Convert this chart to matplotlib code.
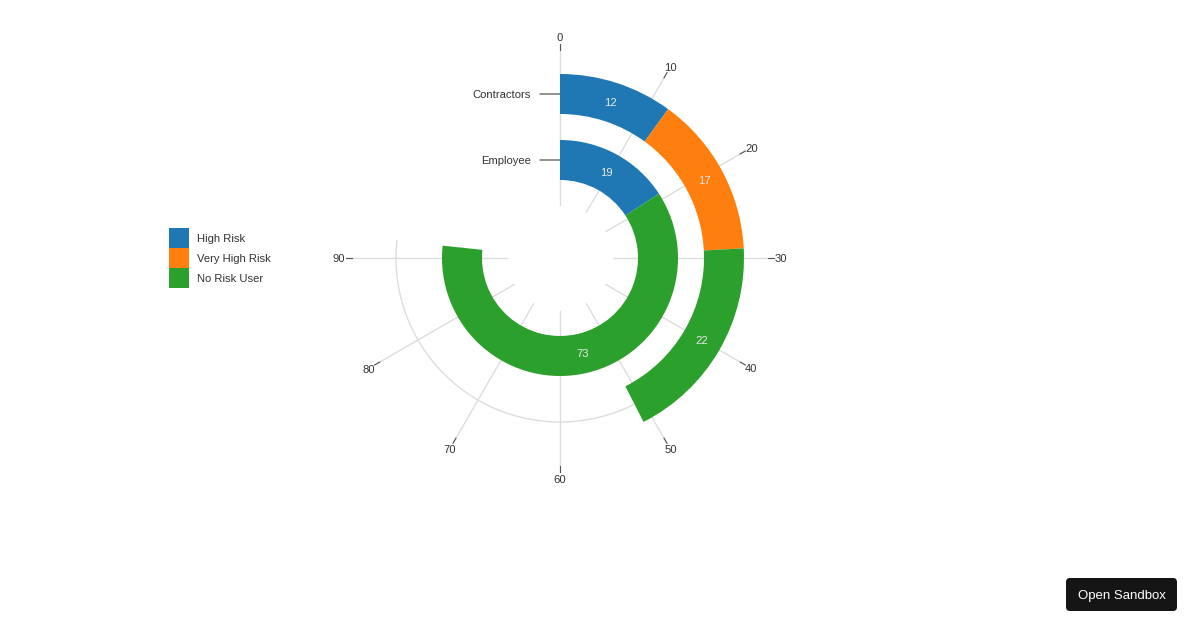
import numpy as np
import matplotlib
matplotlib.use('Agg')
import matplotlib.pyplot as plt
from matplotlib.patches import Rectangle, FancyBboxPatch

plt.rcParams['font.family'] = ['Liberation Sans', 'DejaVu Sans']

# 데이터
categories = ['Contractors', 'Employee']
series = ['High Risk', 'Very High Risk', 'No Risk User']
high_risk = [12, 19]
very_high_risk = [17, 0]
no_risk = [22, 73]
colors = ['#1f77b4', '#ff7f0e', '#2ca02c']
angle_ticks = [0, 10, 20, 30, 40, 50, 60, 70, 80, 90]

# 1 단위 = 3도
def to_theta(v):
    return np.deg2rad(np.asarray(v, dtype=float) * 3.0)

W, H = 1200, 630
cx, cy = 560, 258
R = 235
band_inner = [144, 78]
band_w = 40
fs = 8.1

fig = plt.figure(figsize=(W / 100, H / 100), dpi=100)
ax = fig.add_axes([(cx - R) / W, (H - cy - R) / H, 2 * R / W, 2 * R / H],
                  projection='polar')
ax.set_theta_zero_location('N')
ax.set_theta_direction(-1)
ax.set_ylim(0, R)
ax.axis('off')

# 방사형 그리드
for t in angle_ticks:
    th = to_theta(t)
    ax.plot([th, th], [53, 213], color='#dddddd', lw=1, zorder=0)
    ax.plot([th, th], [208, 214], color='#555555', lw=0.8, zorder=0)
    ax.annotate(str(t), xy=(th, 221), xytext=(0, -1), textcoords='offset pixels',
                ha='center', va='center', fontsize=fs, color='#333333')

# 막대 중심 원호
totals = np.array(high_risk) + np.array(very_high_risk) + np.array(no_risk)
arc = np.linspace(0, to_theta(totals.max()), 300)
for i in range(len(categories)):
    ax.plot(arc, np.full_like(arc, band_inner[i] + band_w / 2), color='#dddddd', lw=1, zorder=0)

# 누적 막대
stack = [high_risk, very_high_risk, no_risk]
for i, cat in enumerate(categories):
    start = 0
    for s, vals in enumerate(stack):
        v = vals[i]
        if v > 0:
            ax.bar(to_theta(start), band_w, width=to_theta(v), bottom=band_inner[i],
                   align='edge', color=colors[s], edgecolor='none', zorder=2)
            ax.annotate(str(v), xy=(to_theta(start + v / 2), band_inner[i] + band_w / 2),
                        xytext=(0, -1), textcoords='offset pixels',
                        ha='center', va='center', fontsize=fs, color='#e8e8e8', zorder=3)
        start += v

    rc = band_inner[i] + band_w / 2
    ax.annotate('', xy=(0, rc), xytext=(-20, 0), textcoords='offset pixels',
                arrowprops=dict(arrowstyle='-', color='#666666', lw=1,
                                shrinkA=0, shrinkB=0))
    ax.annotate(cat, xy=(0, rc), xytext=(-29, -1), textcoords='offset pixels',
                ha='right', va='center', fontsize=fs, color='#333333')

# 범례와 버튼 (픽셀 좌표)
ov = fig.add_axes([0, 0, 1, 1])
ov.set_xlim(0, W)
ov.set_ylim(H, 0)
ov.axis('off')
for s, name in enumerate(series):
    ov.add_patch(Rectangle((169, 228 + 20 * s), 20, 20, color=colors[s], lw=0))
    ov.text(197, 239 + 20 * s, name, ha='left', va='center', fontsize=fs, color='#333333')

ov.add_patch(FancyBboxPatch((1066, 578), 111, 33, boxstyle='round,pad=0,rounding_size=4',
                            facecolor='#151515', edgecolor='none'))
ov.text(1121.5, 595.5, 'Open Sandbox', ha='center', va='center', fontsize=9.5, color='white')

fig.savefig('out.png', dpi=100)
